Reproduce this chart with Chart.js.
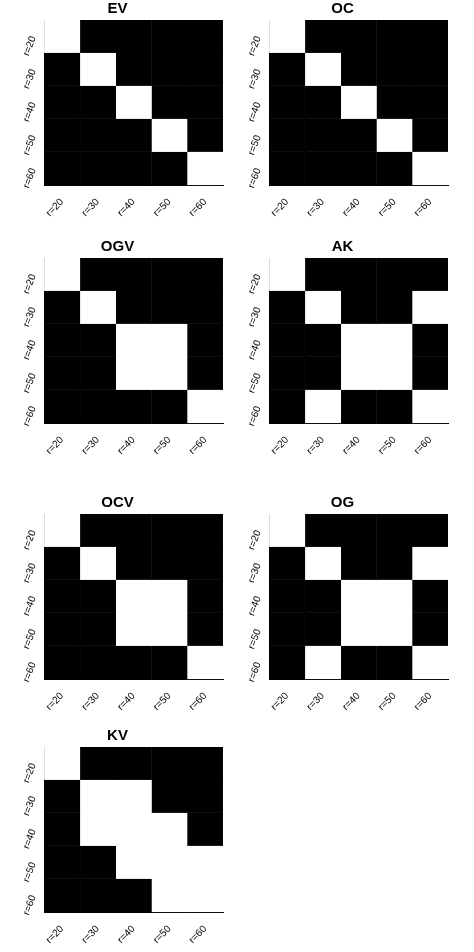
<!DOCTYPE html>
<html><head><meta charset="utf-8">
<script src="https://cdn.jsdelivr.net/npm/chart.js@4.4.1/dist/chart.umd.min.js"></script>
<style>
body{margin:0;background:#fff;width:474px;height:952px;position:relative;overflow:hidden}
.p{position:absolute;width:215px;height:222px}
</style></head><body>
<script>
const labels = ['r=20', 'r=30', 'r=40', 'r=50', 'r=60'];
const titles = ['EV', 'OC', 'OGV', 'AK', 'OCV', 'OG', 'KV'];
// 1 = black, 0 = white; rows r=20..r=60, cols r=20..r=60
const mEV = [[0,1,1,1,1],[1,0,1,1,1],[1,1,0,1,1],[1,1,1,0,1],[1,1,1,1,0]];
const mOC = [[0,1,1,1,1],[1,0,1,1,1],[1,1,0,1,1],[1,1,1,0,1],[1,1,1,1,0]];
const mOGV = [[0,1,1,1,1],[1,0,1,1,1],[1,1,0,0,1],[1,1,0,0,1],[1,1,1,1,0]];
const mAK = [[0,1,1,1,1],[1,0,1,1,0],[1,1,0,0,1],[1,1,0,0,1],[1,0,1,1,0]];
const mOCV = [[0,1,1,1,1],[1,0,1,1,1],[1,1,0,0,1],[1,1,0,0,1],[1,1,1,1,0]];
const mOG = [[0,1,1,1,1],[1,0,1,1,0],[1,1,0,0,1],[1,1,0,0,1],[1,0,1,1,0]];
const mKV = [[0,1,1,1,1],[1,0,0,1,1],[1,0,0,0,1],[1,1,0,0,0],[1,1,1,0,0]];
const mats = [mEV, mOC, mOGV, mAK, mOCV, mOG, mKV];
const pos = [[12,0],[237,0],[12,238],[237,238],[12,494],[237,494],[12,727]];

mats.forEach((m, k) => {
  const d = document.createElement('div');
  d.className = 'p';
  d.style.left = pos[k][0] + 'px'; d.style.top = pos[k][1] + 'px';
  const c = document.createElement('canvas');
  d.appendChild(c); document.body.appendChild(d);
  const datasets = labels.map((_, j) => ({
    data: labels.map(() => [j - 0.5, j + 0.5]),
    backgroundColor: m.map(row => row[j] ? '#000' : '#fff'),
    borderColor: m.map(row => row[j] ? '#000' : '#fff'),
    borderWidth: 0.6, borderSkipped: false,
    barPercentage: 1, categoryPercentage: 1, grouped: false
  }));
  new Chart(c, {
    type: 'bar',
    data: { labels, datasets },
    options: {
      indexAxis: 'y', animation: false, responsive: true, maintainAspectRatio: false,
      layout: { padding: { right: 4 } },
      plugins: { legend: { display: false }, tooltip: { enabled: false },
        title: { display: true, text: titles[k], color: '#000', padding: { top: 0, bottom: 2 },
          font: { family: 'Arial, Liberation Sans', size: 15, weight: 'bold' } } },
      scales: {
        x: { type: 'linear', min: -0.5, max: 4.5, grid: { display: false },
          border: { color: '#000' },
          afterBuildTicks: s => { s.ticks = labels.map((_, i) => ({ value: i })); },
          ticks: { color: '#000', minRotation: 45, maxRotation: 45,
            font: { family: 'Arial, Liberation Sans', size: 10 },
            callback: v => labels[v] } },
        y: { grid: { display: false }, border: { color: '#000' },
          ticks: { color: '#000', minRotation: 70, maxRotation: 70,
            font: { family: 'Arial, Liberation Sans', size: 10 } } }
      }
    }
  });
});
</script>
</body></html>
